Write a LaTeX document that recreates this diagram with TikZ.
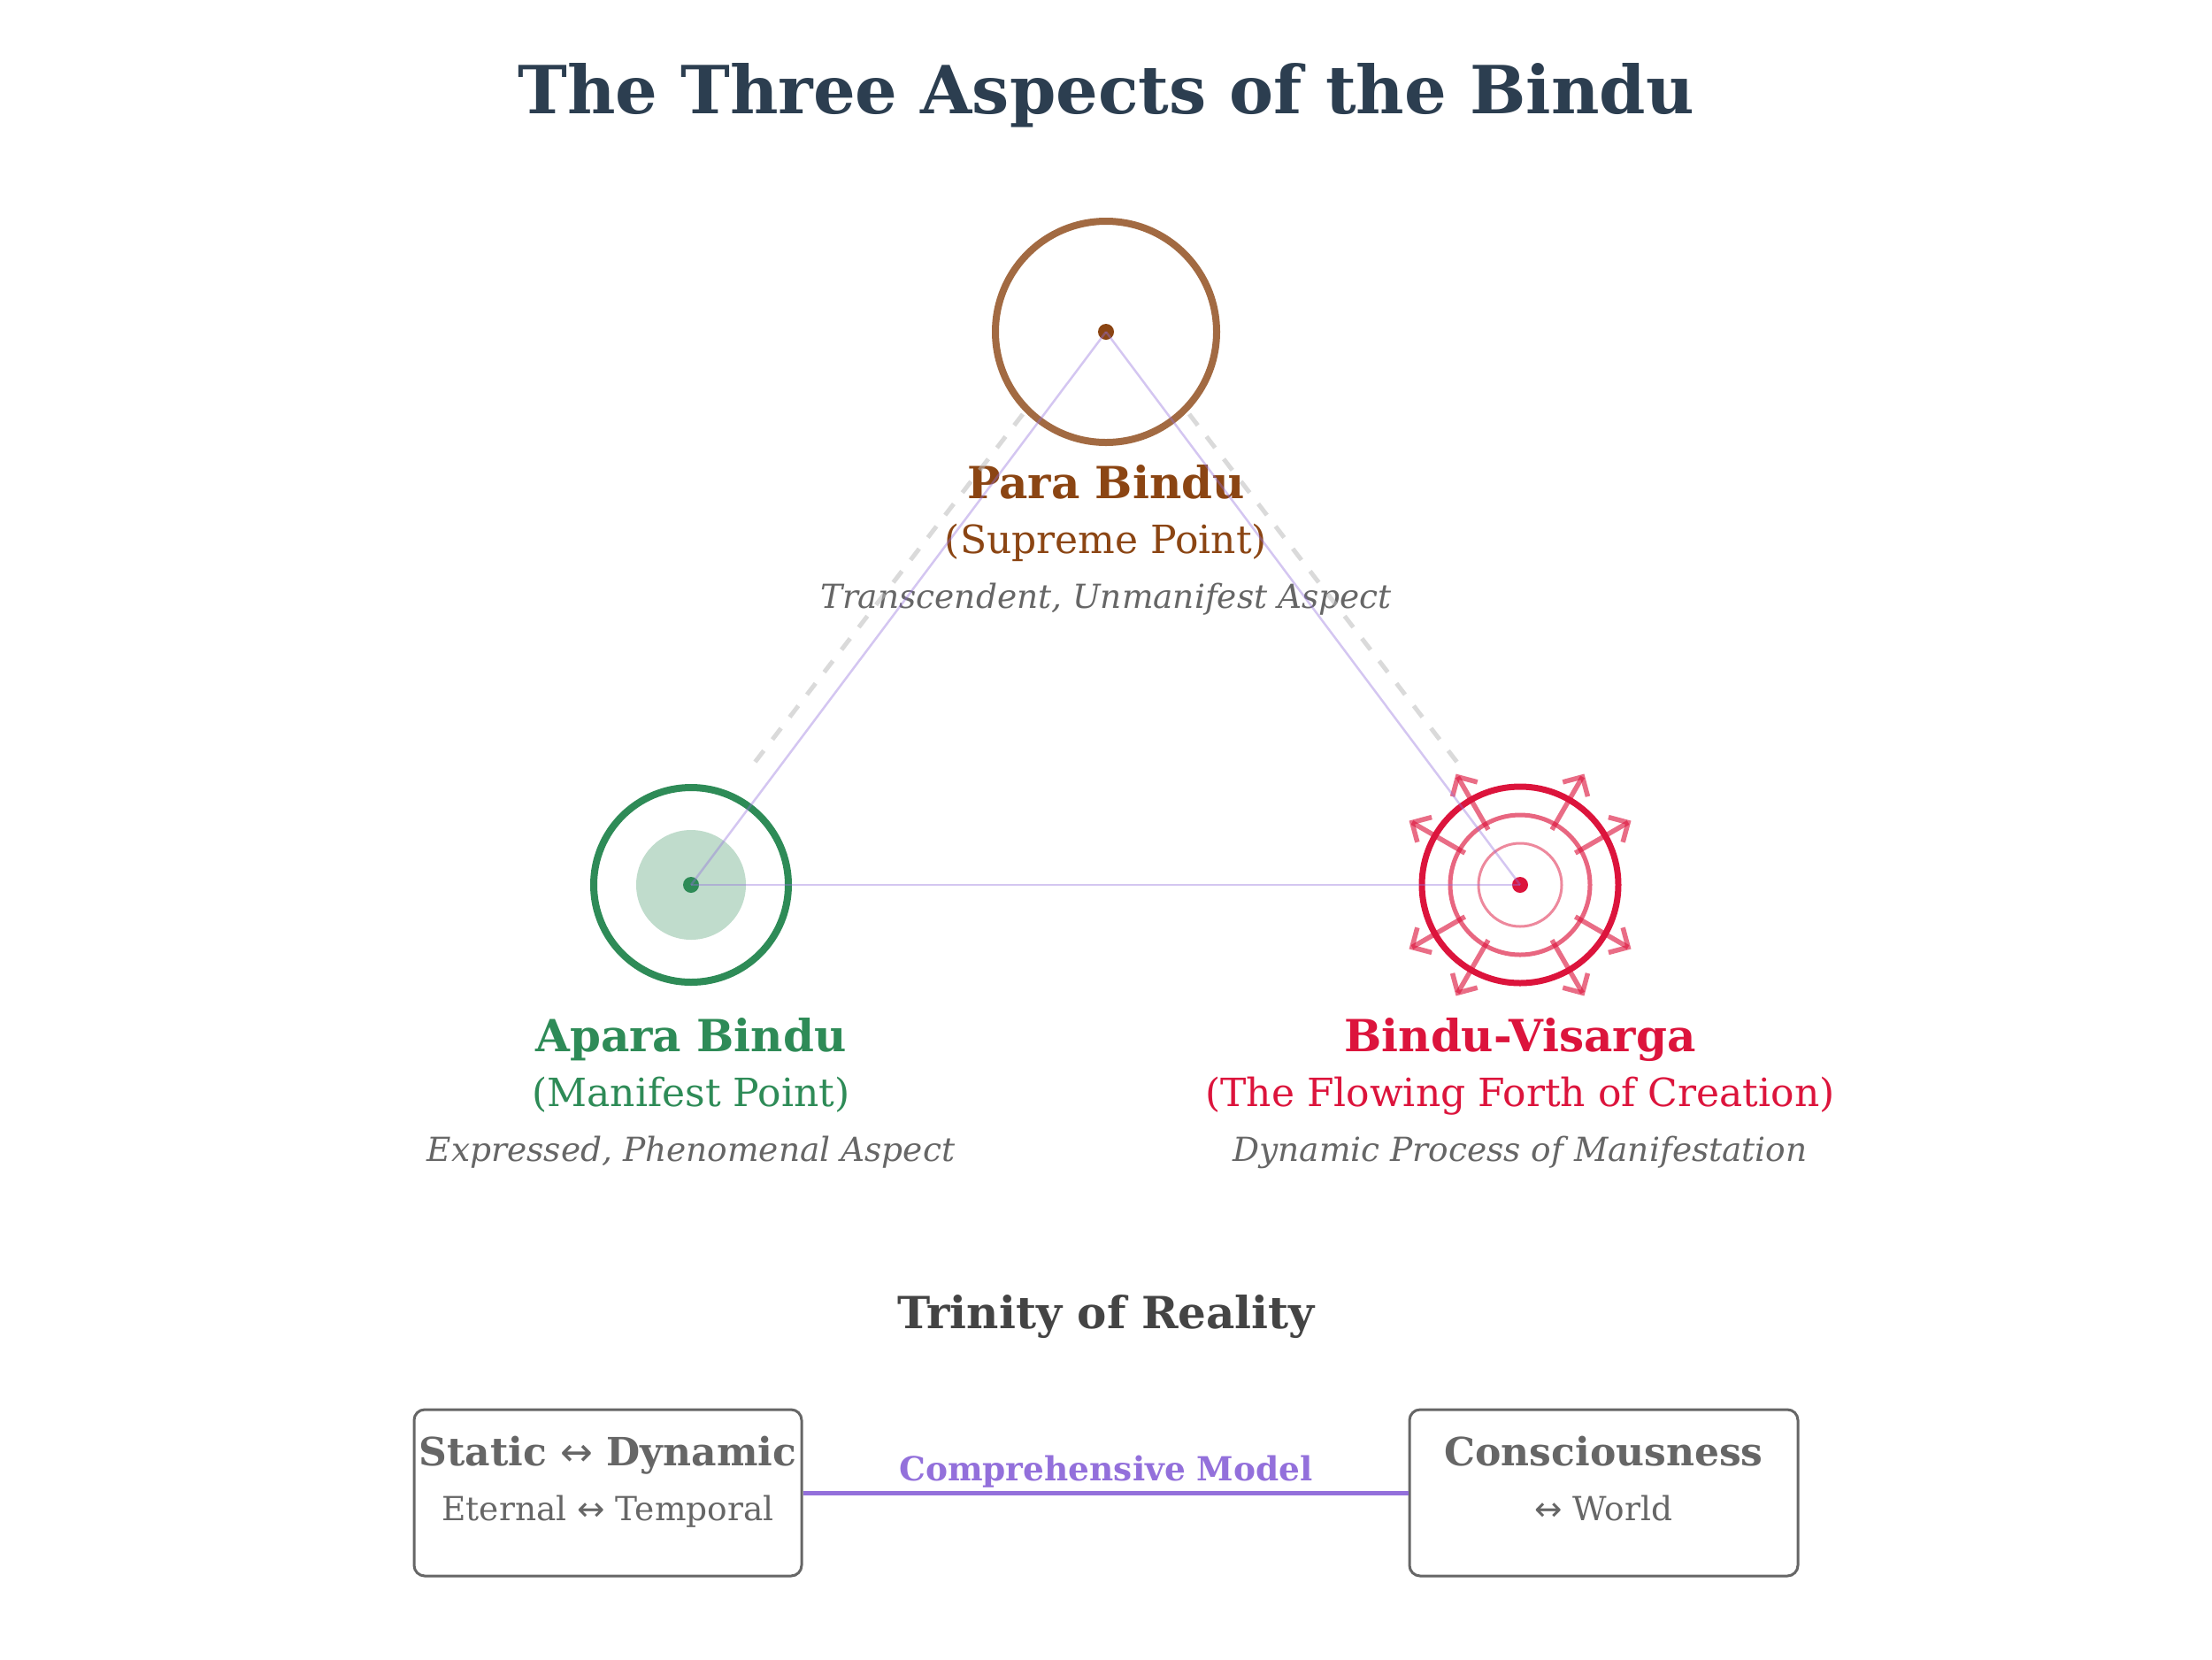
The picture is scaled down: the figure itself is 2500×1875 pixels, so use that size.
\documentclass[tikz,border=0pt]{standalone}
\usepackage{fontspec}
\setmainfont{DejaVu Serif}
\newfontfamily\arrowfont{DejaVu Sans}
\usetikzlibrary{calc}
\definecolor{titlecol}{HTML}{2C3E50}
\definecolor{brownc}{HTML}{8B4513}
\definecolor{greenc}{HTML}{2E8B57}
\definecolor{crimsonc}{HTML}{DC143C}
\definecolor{purplec}{HTML}{9370DB}
\definecolor{graytext}{HTML}{666666}
\definecolor{darkgraytext}{HTML}{444444}
\definecolor{dashgray}{HTML}{BBBBBB}
\newcommand\fsz[1]{\fontsize{#1}{#1}\selectfont}
\newcommand\arr{{\arrowfont\mdseries ↔}}
\begin{document}
\begin{tikzpicture}[x=1pt,y=-1pt,
  ring/.style={circle, inner sep=0pt, outer sep=0pt},
  cdot/.style={circle, inner sep=0pt, minimum size=18pt},
  lbl/.style={anchor=base, inner sep=0pt},
  namefont/.style={font=\bfseries\fsz{50}},
  subfont/.style={font=\fsz{44}},
  descfont/.style={font=\itshape\fsz{37.5}, text=graytext},
  tri/.style={draw=purplec, draw opacity=0.4, line width=2.5pt},
  dashln/.style={draw=dashgray, draw opacity=0.55, line width=5pt, dash pattern=on 16pt off 16pt},
  raystyle/.style={draw=crimsonc, draw opacity=0.62, line width=5.5pt},
  boxstyle/.style={draw=graytext, line width=3pt, rounded corners=12pt, inner sep=0pt, minimum height=188pt}
]
\useasboundingbox (0,0) rectangle (2500,1875);

% title
\node[lbl, font=\bfseries\fsz{75}, text=titlecol] (title) at (1250,128) {The Three Aspects of the Bindu};

% Para Bindu
\node[ring, draw=brownc!80, line width=8pt, minimum size=250pt] (para) at (1250,375) {};
\node[cdot, fill=brownc] (paradot) at (para.center) {};
\node[lbl, namefont, text=brownc] (paraname) at (1250,563) {Para Bindu};
\node[lbl, subfont, text=brownc] (parasub) at (1250,625) {(Supreme Point)};
\node[lbl, descfont] (paradesc) at (1250,687) {Transcendent, Unmanifest Aspect};

% Apara Bindu
\node[ring, draw=greenc, line width=8pt, minimum size=220pt] (apara) at (781,1000) {};
\node[ring, fill=greenc, fill opacity=0.3, minimum size=124pt] (aparaglow) at (apara.center) {};
\node[cdot, fill=greenc] (aparadot) at (apara.center) {};
\node[lbl, namefont, text=greenc] (aparaname) at (781,1188) {Apara Bindu};
\node[lbl, subfont, text=greenc] (aparasub) at (781,1250) {(Manifest Point)};
\node[lbl, descfont] (aparadesc) at (781,1312) {Expressed, Phenomenal Aspect};

% Bindu-Visarga
\node[ring, draw=crimsonc, line width=7pt, minimum size=222pt] (visarga) at (1718,1000) {};
\node[ring, draw=crimsonc, draw opacity=0.65, line width=5pt, minimum size=158pt] (visargamid) at (visarga.center) {};
\node[ring, draw=crimsonc, draw opacity=0.5, line width=3pt, minimum size=94pt] (visargain) at (visarga.center) {};
\foreach \a in {30,60,120,150,210,240,300,330}{
  \draw[raystyle] ($(visarga.center)+(\a:72)$) -- ($(visarga.center)+(\a:141)$);
  \draw[raystyle, line join=miter] ($(visarga.center)+(\a:141)+(\a+135:23)$) -- ($(visarga.center)+(\a:141)$) -- ($(visarga.center)+(\a:141)+(\a-135:23)$);
}
\node[cdot, fill=crimsonc] (visargadot) at (visarga.center) {};
\node[lbl, namefont, text=crimsonc] (visarganame) at (1718,1188) {Bindu-Visarga};
\node[lbl, subfont, text=crimsonc] (visargasub) at (1718,1250) {(The Flowing Forth of Creation)};
\node[lbl, descfont] (visargadesc) at (1718,1312) {Dynamic Process of Manifestation};

% triangle
\draw[tri] (para.center) -- (apara.center);
\draw[tri] (para.center) -- (visarga.center);
\draw[tri] (apara.center) -- (visarga.center);

% dashed lines
\coordinate (dla) at (1156,468);
\coordinate (dlb) at (845,872);
\coordinate (dra) at (1344,468);
\coordinate (drb) at (1655,872);
\draw[dashln] (dla) -- (dlb);
\draw[dashln] (dra) -- (drb);

% Trinity
\node[lbl, font=\bfseries\fsz{50}, text=darkgraytext] (trinity) at (1250,1501) {Trinity of Reality};

\node[boxstyle, minimum width=438pt] (lbox) at (687,1687) {};
\node[boxstyle, minimum width=439pt] (rbox) at (1812.5,1687) {};
\node[lbl, font=\bfseries\fsz{44}, text=graytext] (lboxa) at (687,1656) {Static \arr{} Dynamic};
\node[lbl, font=\fsz{37.5}, text=graytext] (lboxb) at (687,1718) {Eternal \arr{} Temporal};
\node[lbl, font=\bfseries\fsz{44}, text=graytext] (rboxa) at (1812.5,1656) {Consciousness};
\node[lbl, font=\fsz{37.5}, text=graytext] (rboxb) at (1812.5,1718) {\arr{} World};

\draw[draw=purplec, line width=5pt] (lbox.east) -- (rbox.west);
\node[lbl, font=\bfseries\fsz{37.5}, text=purplec] (model) at (1250,1673) {Comprehensive Model};
\end{tikzpicture}
\end{document}
